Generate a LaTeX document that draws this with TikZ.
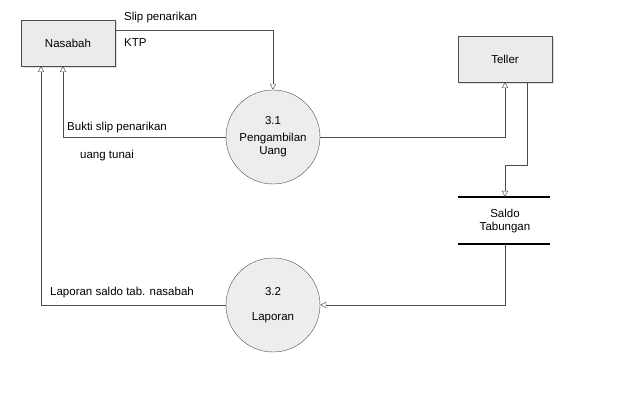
\documentclass[tikz,border=0pt]{standalone}
\usepackage{fontspec}
\setmainfont{Liberation Sans}
\usetikzlibrary{arrows.meta,shadows}
\begin{document}
\begin{tikzpicture}[x=1pt,y=-1pt,
  every node/.style={font=\fontsize{11.5}{13.5}\selectfont},
  ent/.style={draw=black!70,fill=black!8,minimum width=94pt,minimum height=46pt,drop shadow={shadow xshift=2pt,shadow yshift=-2pt,fill=black!25}},
  proc/.style={draw=black!70,fill=black!7,circle,minimum size=94pt,align=center,inner sep=0pt},
  flow/.style={draw=black!70,-{Triangle[open,length=6pt,width=6pt]}},
  lbl/.style={inner sep=0pt,anchor=west}]
\useasboundingbox (0,0) rectangle (633,401);
\node[ent] (nas) at (68,43) {Nasabah};
\node[ent] (tel) at (505,59) {Teller};
\node[proc] (p1) at (273,137) {3.1\\[3pt]Pengambilan\\Uang};
\node[proc] (p2) at (273,305) {3.2\\[12pt]Laporan};
\node[align=center,inner sep=0pt] (ds) at (505,221) {Saldo\\Tabungan};
\coordinate (dst) at (505,197);
\coordinate (dsb) at (505,244);
\draw[line width=2.5pt] (458,197) -- (550,197) (458,244) -- (550,244);
% flows
\draw[flow] (nas.east |- 0,30) -| (p1.north);
\node[lbl] at (124,18) {Slip penarikan};
\node[lbl] at (124,43) {KTP};
\draw[flow] (p1.west) -| (63,66);
\node[lbl] at (67,128) {Bukti slip penarikan};
\node[lbl] at (80,156) {uang tunai};
\draw[flow] (p1.east) -| (505,82);
\draw[flow] (527,82) -- (527,165) -| (dst);
\draw[flow] (dsb) |- (p2.east);
\draw[flow] (p2.west) -| (41,66);
\node[lbl] at (50,293) {Laporan saldo tab. nasabah};
\end{tikzpicture}
\end{document}
